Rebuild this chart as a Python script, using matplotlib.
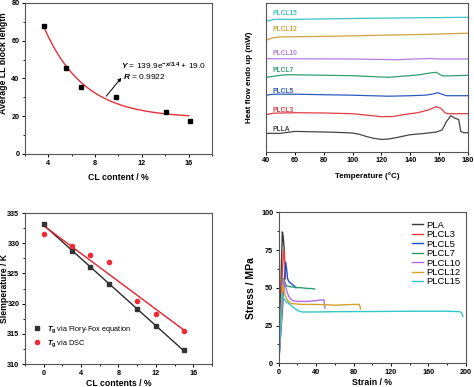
import numpy as np
import matplotlib
matplotlib.use("Agg")
import matplotlib.pyplot as plt
from matplotlib.ticker import MultipleLocator

plt.rcParams['font.family'] = ['Liberation Sans', 'DejaVu Sans']
plt.rcParams['font.weight'] = 'bold'
plt.rcParams['axes.labelweight'] = 'bold'
plt.rcParams['mathtext.fontset'] = 'custom'
plt.rcParams['mathtext.it'] = 'Liberation Sans:italic'
plt.rcParams['mathtext.rm'] = 'Liberation Sans'

# ---- panel 1: block length vs CL content
cl_content = [3.6, 5.5, 6.8, 9.8, 14.1, 16.1]
block_len = [67.8, 45.8, 35.6, 30.3, 22.4, 17.4]
fit_a, fit_t, fit_y0 = 139.9, 3.4, 19.0

# ---- panel 2: DSC curves (temperature, heat flow in arbitrary offset units)
dsc_names = ['PLLA', 'PLCL3', 'PLCL5', 'PLCL7', 'PLCL10', 'PLCL12', 'PLCL15']
dsc_colors = ['#444444', '#e03c44', '#2d5bc0', '#2fa070', '#b27de5', '#d4a23a', '#3ec4c4']
dsc_T = [
    [40, 50, 60, 70, 80, 90, 100, 105, 110, 115, 120, 125, 130, 140, 150, 158, 162, 165, 168, 171, 173.5, 175, 177, 180],
    [40, 45, 60, 80, 100, 110, 120, 128, 135, 145, 152, 158, 161, 164, 166, 180],
    [40, 45, 60, 100, 125, 140, 150, 155, 159, 162, 165, 180],
    [40, 50, 55, 100, 125, 145, 155, 158, 161, 163, 180],
    [40, 100, 130, 155, 158, 180],
    [40, 45, 50, 80, 120, 150, 180],
    [40, 46, 62, 108, 150, 180],
]
dsc_val = [
    [18.3, 18.4, 20.3, 20.0, 19.7, 19.3, 18.7, 17.3, 15.0, 13.3, 12.3, 12.7, 14.0, 17.0, 18.3, 19.7, 21.7, 30.0, 36.0, 33.4, 32.2, 20.2, 19.0, 19.0],
    [37.0, 38.5, 39.0, 38.7, 38.0, 36.5, 35.0, 35.2, 37.0, 39.0, 41.5, 45.0, 43.5, 39.0, 38.0, 38.0],
    [56.5, 57.5, 57.5, 56.5, 55.5, 56.0, 56.5, 57.5, 59.0, 57.5, 56.0, 56.0],
    [74.4, 76.4, 77.0, 76.0, 74.4, 76.7, 79.0, 79.4, 76.7, 75.7, 76.4],
    [93.0, 92.7, 92.0, 93.3, 92.7, 92.7],
    [111.5, 114.0, 114.8, 115.3, 116.5, 117.3, 118.5],
    [130.4, 132.4, 132.4, 133.4, 134.0, 134.4],
]
dsc_label_y = [22.4, 41.7, 60.0, 81.7, 98.4, 122.4, 138.4]

# ---- panel 3: Tg vs CL contents
cl_contents = [0, 3, 5, 7, 10, 12, 15]
tg_fox = [333.2, 328.75, 326.0, 323.2, 319.1, 316.3, 312.3]
tg_dsc = [331.5, 329.6, 328.1, 326.9, 320.45, 318.35, 315.5]

# ---- panel 4: stress-strain
ss_names = ['PLA', 'PLCL3', 'PLCL5', 'PLCL7', 'PLCL10', 'PLCL12', 'PLCL15']
ss_colors = ['#3a3a3a', '#f03a3a', '#1f4fc8', '#2e9c6a', '#b36be0', '#d9a12a', '#33c7c7']
ss_strain = [
    [0, 1, 2, 3, 3.9, 4.6, 5.3, 5.8, 6.3],
    [0, 1, 2, 3, 4, 5, 5.6, 6.2, 6.8, 7.3],
    [0, 2, 4, 6, 7.5, 8.5, 9.5, 11, 13, 15, 17, 18.5],
    [0, 2, 4, 5, 6, 8, 10, 15, 20, 25, 30, 35, 38.5],
    [0, 2, 4, 5.5, 7, 9, 11, 13, 15, 20, 30, 40, 46, 48.5, 49, 49.5],
    [0, 1.5, 3, 4, 5, 7, 9, 12, 15, 25, 40, 60, 80, 86, 87, 87.5],
    [0, 1, 2, 3, 3.8, 5, 7, 10, 15, 20, 25, 40, 60, 100, 140, 180, 194, 196, 197],
]
ss_stress = [
    [0, 20, 42, 68, 87, 85, 80, 76, 72],
    [0, 15, 30, 47, 62, 72, 75, 70, 62, 56],
    [0, 18, 36, 55, 67, 62, 56, 54, 53, 52, 51, 50],
    [0, 22, 45, 56, 55, 51.5, 51, 50.5, 50.2, 50, 49.6, 49.5, 49.2],
    [0, 20, 42, 55, 52, 47, 44, 42.5, 41.5, 41, 41, 41.5, 42, 42, 38, 36.5],
    [0, 18, 38, 52, 50, 45, 42, 40, 39.5, 39, 39, 38.5, 39, 39, 37.5, 36],
    [0, 12, 25, 38, 46, 43.5, 41.5, 40, 37.5, 35, 34, 34, 34.2, 34.3, 34.5, 34.5, 34.2, 33, 31],
]

fig = plt.figure(figsize=(4.74, 3.87), dpi=100)
ax1 = fig.add_axes([0.0527, 0.6021, 0.3945, 0.3902])
ax2 = fig.add_axes([0.5612, 0.608, 0.4262, 0.385])
ax3 = fig.add_axes([0.0527, 0.0594, 0.3945, 0.3902])
ax4 = fig.add_axes([0.588, 0.0612, 0.3945, 0.3902])

tick_fs = 5.2
for ax in (ax1, ax2, ax3, ax4):
    ax.tick_params(direction='out', labelsize=tick_fs, length=2.5, width=0.7, pad=1.5)
    ax.tick_params(which='minor', direction='out', length=1.5, width=0.6)
    for s in ax.spines.values():
        s.set_linewidth(0.8)
        s.set_color('#555555')
    for t in ax.get_xticklabels() + ax.get_yticklabels():
        t.set_fontweight('bold')

# panel 1
xs = np.linspace(cl_content[0], 16.0, 100)
ax1.plot(xs, fit_a * np.exp(-xs / fit_t) + fit_y0, color='#e8303c', lw=1.0)
ax1.plot(cl_content, block_len, 's', color='black', ms=3)
ax1.set_xlim(2, 18)
ax1.set_ylim(0, 80)
ax1.xaxis.set_major_locator(MultipleLocator(4))
ax1.xaxis.set_minor_locator(MultipleLocator(2))
ax1.yaxis.set_major_locator(MultipleLocator(20))
ax1.yaxis.set_minor_locator(MultipleLocator(10))
ax1.set_xlabel('CL content / %', fontsize=6.3)
ax1.set_ylabel('Average LL block length', fontsize=6.3)
ax1.xaxis.set_label_coords(0.5, -0.126)
ax1.yaxis.set_label_coords(-0.09, 0.6)
ax1.annotate('', xy=(10.4, 41.5), xytext=(8.8, 29.5),
             arrowprops=dict(arrowstyle='-|>', color='black', lw=0.7, mutation_scale=5))
ax1.text(10.2, 46.6, r'$Y$ = 139.9e$^{-x/3.4}$ + 19.0', fontsize=6, fontweight='normal', va='center')
ax1.text(10.4, 41.3, r'$R$ = 0.9922', fontsize=6, fontweight='normal', va='center')

# panel 2
for T, v, name, c, ly in zip(dsc_T, dsc_val, dsc_names, dsc_colors, dsc_label_y):
    ax2.plot(T, v, color=c, lw=0.9)
    ax2.text(44.5, ly, name, color=c, fontsize=4.8, fontweight='bold', va='center')
ax2.set_xlim(40, 180)
ax2.set_ylim(0, 149)
ax2.set_yticks([])
ax2.xaxis.set_major_locator(MultipleLocator(20))
ax2.set_xlabel('Temperature (\u00b0C)', fontsize=5.8)
ax2.set_ylabel('Heat flow endo up (mW)', fontsize=5.8)
ax2.xaxis.set_label_coords(0.5, -0.136)
ax2.yaxis.set_label_coords(-0.064, 0.5)

# panel 3
fox_fit = np.polyfit(cl_contents, tg_fox, 1)
dsc_fit = np.polyfit(cl_contents, tg_dsc, 1)
xl = np.array([cl_contents[0], cl_contents[-1]])
ax3.plot(xl, np.polyval(fox_fit, xl), color='#2b2b2b', lw=1.0)
ax3.plot(xl, np.polyval(dsc_fit, xl), color='#e8202c', lw=1.0)
ax3.plot(cl_contents, tg_fox, 's', color='#333333', ms=3, label=r'$T_\mathrm{g}$ via Flory-Fox equation')
ax3.plot(cl_contents, tg_dsc, 'o', color='#ee2a36', ms=3, label=r'$T_\mathrm{g}$ via DSC')
ax3.set_xlim(-2, 18)
ax3.set_ylim(310, 335)
ax3.xaxis.set_major_locator(MultipleLocator(4))
ax3.xaxis.set_minor_locator(MultipleLocator(2))
ax3.yaxis.set_major_locator(MultipleLocator(5))
ax3.yaxis.set_minor_locator(MultipleLocator(2.5))
ax3.set_xlabel('CL contents / %', fontsize=6.3)
ax3.set_ylabel('SIemperature / K', fontsize=6.2)
ax3.xaxis.set_label_coords(0.5, -0.1)
ax3.yaxis.set_label_coords(-0.088, 0.5)
leg3 = ax3.legend(loc='lower left', bbox_to_anchor=(0.03, 0.08), frameon=False, fontsize=5.3,
                  handlelength=1.0, handletextpad=0.8, labelspacing=0.5, borderaxespad=0)
for t in leg3.get_texts():
    t.set_fontweight('normal')

# panel 4
for x, y, name, c in zip(ss_strain, ss_stress, ss_names, ss_colors):
    ax4.plot(x, y, color=c, lw=1.0, label=name)
ax4.set_xlim(0, 200)
ax4.set_ylim(0, 100)
ax4.xaxis.set_major_locator(MultipleLocator(40))
ax4.xaxis.set_minor_locator(MultipleLocator(20))
ax4.yaxis.set_major_locator(MultipleLocator(25))
ax4.yaxis.set_minor_locator(MultipleLocator(12.5))
ax4.set_xlabel('Strain / %', fontsize=6.3)
ax4.set_ylabel('Stress / MPa', fontsize=7.5)
ax4.xaxis.set_label_coords(0.5, -0.1)
ax4.yaxis.set_label_coords(-0.12, 0.5)
leg4 = ax4.legend(loc='upper right', bbox_to_anchor=(0.99, 0.97), frameon=False, fontsize=6.8,
                  handlelength=1.2, handletextpad=0.3, labelspacing=0.05, borderaxespad=0)
for t in leg4.get_texts():
    t.set_fontweight('normal')

fig.savefig('out.png', dpi=100)
